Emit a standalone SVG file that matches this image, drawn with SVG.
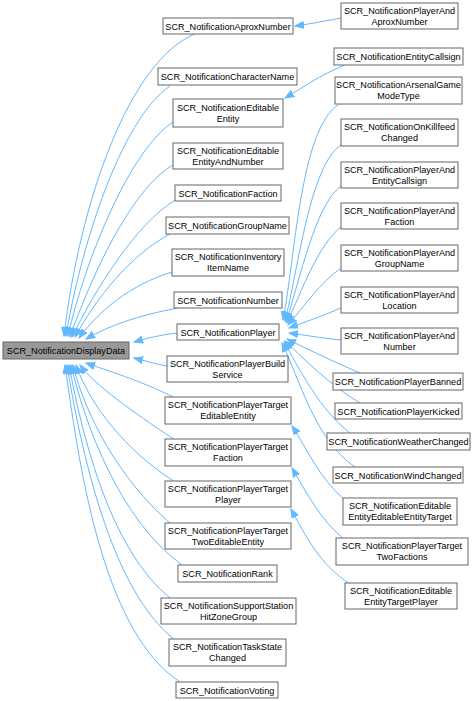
<svg xmlns="http://www.w3.org/2000/svg" width="474" height="701" viewBox="0 0 474 701">
<style>
.n rect{fill:#fff;stroke:#666;stroke-width:1}
.root rect{fill:#999;stroke:#666;stroke-width:1}
text{font-family:"Liberation Sans",Arial,sans-serif;font-size:9.1px;fill:#000;text-anchor:middle}
.e path{fill:none;stroke:#63B8FF;stroke-width:1;marker-end:url(#a)}
</style>
<defs>
<marker id="a" markerUnits="userSpaceOnUse" markerWidth="10" markerHeight="8" refX="9" refY="4" orient="auto">
<path d="M0,0.5 L9,4 L0,7.5 z" fill="#63B8FF" stroke="#63B8FF" stroke-width="1"/>
</marker>
</defs>
<rect width="474" height="701" fill="#fff"/>
<g class="e" id="edges">
<path d="M195,34 C130,60 80,200 64,336"/>
<path d="M170,86 C120,120 80,250 66,336"/>
<path d="M173,122 C130,150 85,260 68,336"/>
<path d="M173,165 C130,190 90,280 70,337"/>
<path d="M175,200 C135,225 95,290 72,337"/>
<path d="M170,234 C130,255 95,300 75,337"/>
<path d="M172,272 C130,285 100,310 79,338"/>
<path d="M178,308 C140,315 110,325 86,339"/>
<path d="M177,333 C160,335 148,338 134,342"/>
<path d="M167,366 C155,364 146,361 134,358"/>
<path d="M175,398 C140,380 105,370 86,363"/>
<path d="M175,440 C130,410 95,385 80,365"/>
<path d="M175,482 C125,450 90,405 76,365"/>
<path d="M170,523 C120,480 85,415 73,365"/>
<path d="M182,565 C120,520 85,425 71,365"/>
<path d="M170,598 C110,550 82,435 69,365"/>
<path d="M175,640 C110,590 80,445 67,365"/>
<path d="M180,682 C100,630 78,455 65,365"/>
<path d="M341,18 C325,21 310,24 295,26"/>
<path d="M345,65 C320,75 302,88 285,98"/>
<path d="M338,105 C300,130 295,260 283,320"/>
<path d="M341,145 C310,165 298,270 285,321"/>
<path d="M341,186 C315,205 300,280 286,322"/>
<path d="M341,227 C318,245 302,290 287,323"/>
<path d="M341,268 C320,283 305,305 288,325"/>
<path d="M341,308 C325,315 305,322 289,328"/>
<path d="M341,340 C320,338 305,335 289,333"/>
<path d="M360,373 C330,360 305,348 287,339"/>
<path d="M360,403 C330,385 305,360 285,341"/>
<path d="M350,433 C320,410 300,370 284,342"/>
<path d="M355,467 C315,440 300,380 282,343"/>
<path d="M345,500 C320,480 305,445 292,426"/>
<path d="M345,540 C320,520 305,490 292,468"/>
<path d="M350,584 C320,565 305,535 291,509"/>
</g>
<g class="root" id="n_DisplayData"><rect x="3" y="342" width="126" height="17"/><text x="66" y="354">SCR_NotificationDisplayData</text></g>
<g class="n" id="n_AproxNumber"><rect x="163" y="18" width="130" height="16"/><text x="228" y="29.5">SCR_NotificationAproxNumber</text></g>
<g class="n" id="n_CharacterName"><rect x="158" y="68" width="139" height="17"/><text x="227.5" y="80">SCR_NotificationCharacterName</text></g>
<g class="n" id="n_EditableEntity"><rect x="173" y="99" width="110" height="28"/><text x="228" y="110.5">SCR_NotificationEditable</text><text x="228" y="121.5">Entity</text></g>
<g class="n" id="n_EditableEntityAndNumber"><rect x="173" y="143" width="110" height="26"/><text x="228" y="153.5">SCR_NotificationEditable</text><text x="228" y="164.5">EntityAndNumber</text></g>
<g class="n" id="n_Faction"><rect x="175" y="185" width="106" height="16"/><text x="228" y="196.5">SCR_NotificationFaction</text></g>
<g class="n" id="n_GroupName"><rect x="166" y="217" width="123" height="17"/><text x="227.5" y="229">SCR_NotificationGroupName</text></g>
<g class="n" id="n_InventoryItemName"><rect x="172" y="249" width="112" height="27"/><text x="228" y="260">SCR_NotificationInventory</text><text x="228" y="271">ItemName</text></g>
<g class="n" id="n_Number"><rect x="174" y="292" width="108" height="16"/><text x="228" y="303.5">SCR_NotificationNumber</text></g>
<g class="n" id="n_Player"><rect x="177" y="324" width="102" height="16"/><text x="228" y="335.5">SCR_NotificationPlayer</text></g>
<g class="n" id="n_PlayerBuildService"><rect x="167" y="356" width="121" height="26"/><text x="227.5" y="366.5">SCR_NotificationPlayerBuild</text><text x="227.5" y="377.5">Service</text></g>
<g class="n" id="n_PlayerTargetEditableEntity"><rect x="165" y="397" width="126" height="27"/><text x="228" y="408">SCR_NotificationPlayerTarget</text><text x="228" y="419">EditableEntity</text></g>
<g class="n" id="n_PlayerTargetFaction"><rect x="165" y="439" width="126" height="27"/><text x="228" y="450">SCR_NotificationPlayerTarget</text><text x="228" y="461">Faction</text></g>
<g class="n" id="n_PlayerTargetPlayer"><rect x="165" y="481" width="126" height="26"/><text x="228" y="491.5">SCR_NotificationPlayerTarget</text><text x="228" y="502.5">Player</text></g>
<g class="n" id="n_PlayerTargetTwoEditableEntity"><rect x="165" y="523" width="126" height="26"/><text x="228" y="533.5">SCR_NotificationPlayerTarget</text><text x="228" y="544.5">TwoEditableEntity</text></g>
<g class="n" id="n_Rank"><rect x="178" y="565" width="99" height="17"/><text x="227.5" y="577">SCR_NotificationRank</text></g>
<g class="n" id="n_SupportStation"><rect x="161" y="598" width="135" height="26"/><text x="228.5" y="608.5">SCR_NotificationSupportStation</text><text x="228.5" y="619.5">HitZoneGroup</text></g>
<g class="n" id="n_TaskStateChanged"><rect x="169" y="639" width="117" height="27"/><text x="227.5" y="650">SCR_NotificationTaskState</text><text x="227.5" y="661">Changed</text></g>
<g class="n" id="n_Voting"><rect x="176" y="682" width="102" height="16"/><text x="227" y="693.5">SCR_NotificationVoting</text></g>
<g class="n" id="n_PlayerAndAproxNumber"><rect x="341" y="3" width="117" height="26"/><text x="399.5" y="13.5">SCR_NotificationPlayerAnd</text><text x="399.5" y="24.5">AproxNumber</text></g>
<g class="n" id="n_EntityCallsign"><rect x="334" y="48" width="129" height="17"/><text x="398.5" y="60">SCR_NotificationEntityCallsign</text></g>
<g class="n" id="n_ArsenalGameModeType"><rect x="335" y="77" width="127" height="27"/><text x="398.5" y="88">SCR_NotificationArsenalGame</text><text x="398.5" y="99">ModeType</text></g>
<g class="n" id="n_OnKillfeedChanged"><rect x="341" y="119" width="117" height="27"/><text x="399.5" y="130">SCR_NotificationOnKillfeed</text><text x="399.5" y="141">Changed</text></g>
<g class="n" id="n_PlayerAndEntityCallsign"><rect x="341" y="162" width="117" height="26"/><text x="399.5" y="172.5">SCR_NotificationPlayerAnd</text><text x="399.5" y="183.5">EntityCallsign</text></g>
<g class="n" id="n_PlayerAndFaction"><rect x="341" y="203" width="117" height="26"/><text x="399.5" y="213.5">SCR_NotificationPlayerAnd</text><text x="399.5" y="224.5">Faction</text></g>
<g class="n" id="n_PlayerAndGroupName"><rect x="341" y="245" width="117" height="26"/><text x="399.5" y="255.5">SCR_NotificationPlayerAnd</text><text x="399.5" y="266.5">GroupName</text></g>
<g class="n" id="n_PlayerAndLocation"><rect x="341" y="287" width="117" height="26"/><text x="399.5" y="297.5">SCR_NotificationPlayerAnd</text><text x="399.5" y="308.5">Location</text></g>
<g class="n" id="n_PlayerAndNumber"><rect x="341" y="328" width="117" height="26"/><text x="399.5" y="338.5">SCR_NotificationPlayerAnd</text><text x="399.5" y="349.5">Number</text></g>
<g class="n" id="n_PlayerBanned"><rect x="333" y="373" width="130" height="17"/><text x="398" y="385">SCR_NotificationPlayerBanned</text></g>
<g class="n" id="n_PlayerKicked"><rect x="335" y="403" width="127" height="16"/><text x="398.5" y="414.5">SCR_NotificationPlayerKicked</text></g>
<g class="n" id="n_WeatherChanged"><rect x="327" y="433" width="143" height="17"/><text x="398.5" y="445">SCR_NotificationWeatherChanged</text></g>
<g class="n" id="n_WindChanged"><rect x="333" y="467" width="130" height="16"/><text x="398" y="478.5">SCR_NotificationWindChanged</text></g>
<g class="n" id="n_EditableEntityEditableEntityTarget"><rect x="343" y="498" width="114" height="27"/><text x="400" y="509">SCR_NotificationEditable</text><text x="400" y="520">EntityEditableEntityTarget</text></g>
<g class="n" id="n_PlayerTargetTwoFactions"><rect x="336" y="538" width="132" height="27"/><text x="402" y="549">SCR_NotificationPlayerTarget</text><text x="402" y="560">TwoFactions</text></g>
<g class="n" id="n_EditableEntityTargetPlayer"><rect x="345" y="583" width="112" height="26"/><text x="401" y="593.5">SCR_NotificationEditable</text><text x="401" y="604.5">EntityTargetPlayer</text></g>
</svg>
